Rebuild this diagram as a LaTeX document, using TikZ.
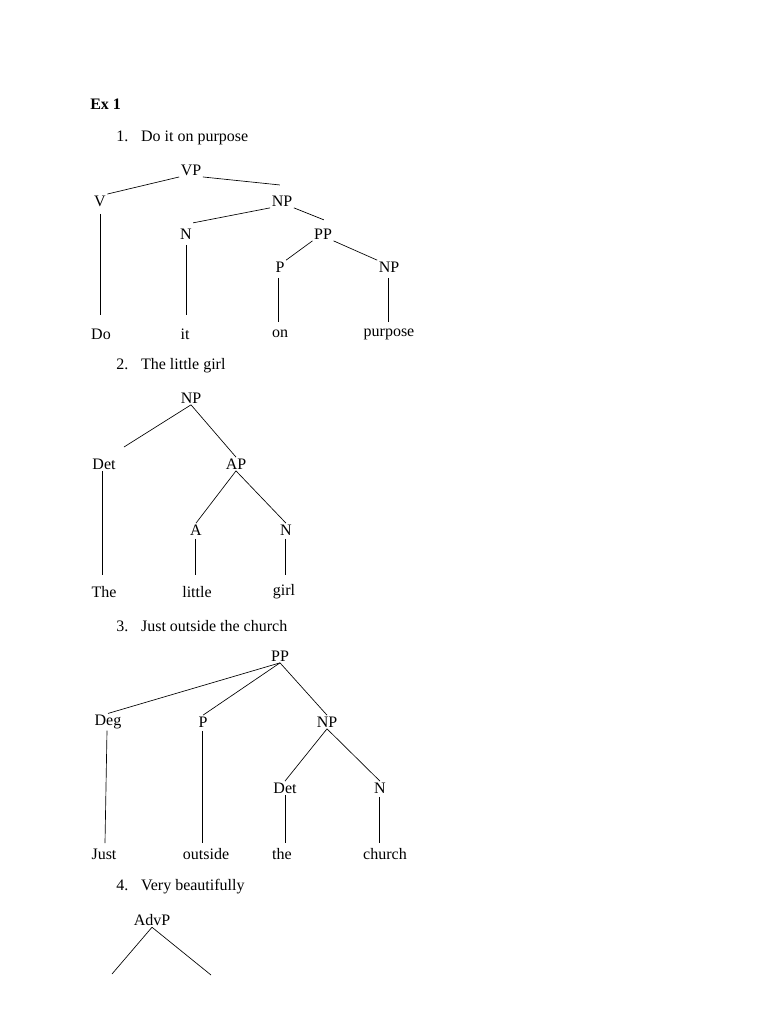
\documentclass[tikz,border=0pt]{standalone}
\usepackage{fontspec}
\setmainfont{Liberation Serif}
\begin{document}
\begin{tikzpicture}[x=0.75pt,y=-0.75pt,
  lab/.style={font=\fontsize{12}{14}\selectfont, inner sep=1pt},
  head/.style={font=\fontsize{12}{14}\selectfont, anchor=west, inner sep=0pt},
  br/.style={line width=0.5pt}]
\useasboundingbox (0,0) rectangle (768,1024);
\node[head,font=\fontsize{12}{14}\selectfont\bfseries] (ex) at (90,104) {Ex 1};
% 1
\node[head] (h1) at (116,138) {1.\hspace{0.8em}Do it on purpose};
\node[lab] (vp) at (191,170) {VP};
\node[lab] (v) at (100,201) {V};
\node[lab] (np1) at (282,201) {NP};
\node[lab] (n1) at (186,234) {N};
\node[lab] (pp1) at (323,234) {PP};
\node[lab] (p1) at (280,267) {P};
\node[lab] (np2) at (389,267) {NP};
\node[lab] (w1) at (101,334) {Do};
\node[lab] (w2) at (185,334) {it};
\node[lab] (w3) at (280,334) {on};
\node[lab] (w4) at (389,334) {purpose};
\draw[br] (vp.south west) -- (v.north east);
\draw[br] (vp.south east) -- ++(77,8) coordinate (vpe);
\draw[br] (np1.south west) -- ++(-77,15) coordinate (npw);
\draw[br] (np1.south east) -- ++(30,12) coordinate (npe);
\draw[br] (pp1.south west) -- (p1.north east);
\draw[br] (pp1.south east) -- (np2.north west);
\draw[br] (v.south) ++(0,6) -- (100,315);
\draw[br] (n1.south) ++(0,4) -- (186,315);
\draw[br] (p1.south) ++(-2,4) -- (278,322);
\draw[br] (np2.south) ++(-1,4) -- (388,322);
% 2
\node[head] (h2) at (116,366) {2.\hspace{0.8em}The little girl};
\node[lab] (np3) at (191,398) {NP};
\node[lab] (det1) at (104,464) {Det};
\node[lab] (ap) at (236,464) {AP};
\node[lab] (a) at (196,530) {A};
\node[lab] (n2) at (286,530) {N};
\node[lab] (w5) at (104,592) {The};
\node[lab] (w6) at (197,592) {little};
\node[lab] (w7) at (284,592) {girl};
\draw[br] (np3.south) -- (124,447);
\draw[br] (np3.south) -- (ap.north);
\draw[br] (ap.south) -- (a.north);
\draw[br] (ap.south) -- (n2.north);
\draw[br] (det1.south) ++(-2,0) -- (102,575);
\draw[br] (a.south) ++(-1,2) -- (195,575);
\draw[br] (n2.south) ++(-1,2) -- (285,575);
% 3
\node[head] (h3) at (116,626) {3.\hspace{0.8em}Just outside the church};
\node[lab] (pp2) at (280,656) {PP};
\node[lab] (deg) at (108,722) {Deg};
\node[lab] (p2) at (203,722) {P};
\node[lab] (np4) at (327,722) {NP};
\node[lab] (det2) at (285,788) {Det};
\node[lab] (n3) at (380,788) {N};
\node[lab] (w8) at (104,854) {Just};
\node[lab] (w9) at (206,854) {outside};
\node[lab] (w10) at (282,854) {the};
\node[lab] (w11) at (385,854) {church};
\draw[br] (pp2.south) -- (deg.north);
\draw[br] (pp2.south) -- (p2.north);
\draw[br] (pp2.south) -- (np4.north);
\draw[br] (np4.south) -- (det2.north);
\draw[br] (np4.south) -- (n3.north);
\draw[br] (deg.south) ++(-1,0) -- (105,843);
\draw[br] (p2.south) ++(-1,2) -- (202,843);
\draw[br] (det2.south) -- (285,843);
\draw[br] (n3.south) ++(-1,2) -- (379,843);
% 4
\node[head] (h4) at (116,887) {4.\hspace{0.8em}Very beautifully};
\node[lab] (advp) at (152,920) {AdvP};
\draw[br] (advp.south) -- (112,974) coordinate (l4);
\draw[br] (advp.south) -- (211,975) coordinate (r4);
\end{tikzpicture}
\end{document}
